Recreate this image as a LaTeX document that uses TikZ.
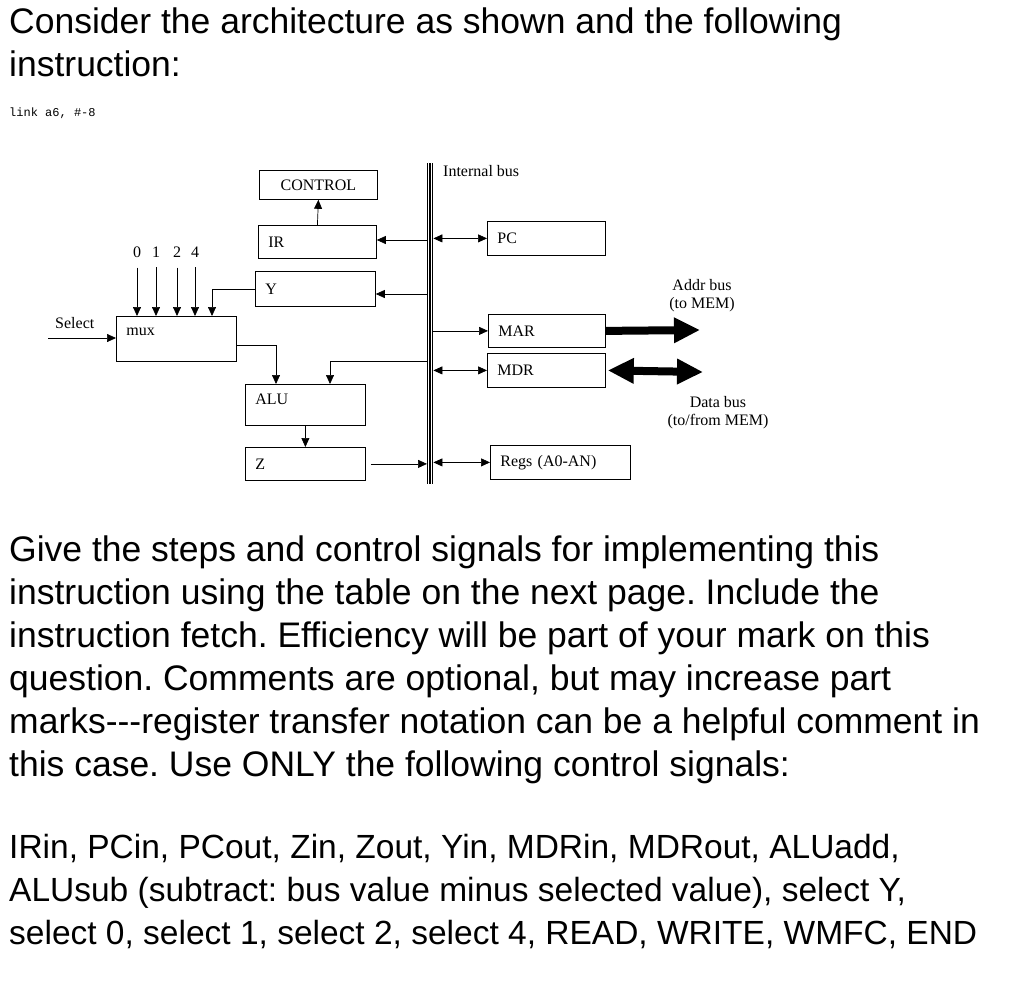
\documentclass[tikz,border=0pt]{standalone}
\usepackage{fontspec}
\setmainfont{Liberation Serif}
\newfontfamily\qfont{Liberation Sans}
\newfontfamily\mfont{Liberation Mono}
\usetikzlibrary{arrows.meta}
\frenchspacing
\begin{document}
\begin{tikzpicture}[x=1pt,y=-1pt,
  box/.style={draw, line width=0.8pt, anchor=north west, inner xsep=10pt, inner ysep=0pt, align=left, font=\fontsize{16}{16}\selectfont},
  lbl/.style={font=\fontsize{16}{18}\selectfont, inner sep=0pt},
  arr/.style={line width=0.7pt, -{Triangle[length=9pt,width=8pt]}},
  darr/.style={line width=0.7pt, {Triangle[length=9pt,width=8pt]}-{Triangle[length=9pt,width=8pt]}},
  q/.style={anchor=west, inner sep=0pt, font=\qfont\fontsize{35.5}{43}\selectfont, align=left}]
\useasboundingbox (0,0) rectangle (1024,988);
% question text
\node[q, anchor=north west] (t1) at (9,8) {Consider the architecture as shown and the following\\instruction:};
\node[anchor=west, inner sep=0pt, font=\mfont\fontsize{12}{12}\selectfont] (code) at (9,113) {link a6, \#-8};
\node[q, anchor=north west] (t2) at (9,536) {Give the steps and control signals for implementing this\\instruction using the table on the next page. Include the\\instruction fetch. Efficiency will be part of your mark on this\\question. Comments are optional, but may increase part\\marks---register transfer notation can be a helpful comment in\\this case. Use ONLY the following control signals:};
\node[q, anchor=north west, font=\qfont\fontsize{33.5}{43}\selectfont] (t3) at (9,834) {IRin, PCin, PCout, Zin, Zout, Yin, MDRin, MDRout, ALUadd,\\ALUsub (subtract: bus value minus selected value), select Y,\\select 0, select 1, select 2, select 4, READ, WRITE, WMFC, END};
% boxes
\node[box, minimum width=118, minimum height=29, align=center, text width=98] (ctl) at (259,170) {CONTROL};
\node[box, minimum width=118, minimum height=33, text width=98] (ir) at (258,225) {IR};
\node[box, minimum width=120, minimum height=35, text width=100] (y) at (255,271) {Y};
\node[box, minimum width=120, minimum height=45, text width=100, text depth=14pt] (mux) at (116,316) {mux};
\node[box, minimum width=120, minimum height=41, text width=100, text depth=12pt] (alu) at (245,384) {ALU};
\node[box, minimum width=120, minimum height=33, text width=100] (z) at (245,447) {Z};
\node[box, minimum width=118, minimum height=34, text width=98] (pc) at (487,221) {PC};
\node[box, minimum width=117, minimum height=33, text width=97] (mar) at (488,314) {MAR};
\node[box, minimum width=118, minimum height=34, text width=98] (mdr) at (487,353) {MDR};
\node[box, minimum width=140, minimum height=34, text width=120] (regs) at (490,445) {Regs (A0-AN)};
% bus
\node[anchor=north west, minimum width=6, minimum height=321, inner sep=0pt] (bus) at (427,163) {};
\foreach \dx in {0.8,3,5.2} \draw[line width=1.1pt] ([xshift=\dx]bus.north west) -- ([xshift=\dx]bus.south west);
\node[lbl, anchor=west] (ib) at (443,171) {Internal bus};
% labels
\node[lbl, anchor=west] (sel) at (55,323) {Select};
\node[lbl] (i0) at (137,252) {0};
\node[lbl] (i1) at (156,252) {1};
\node[lbl] (i2) at (177,252) {2};
\node[lbl] (i4) at (195,252) {4};
\node[lbl, align=center] (ab) at (702,296) {Addr bus\\(to MEM)};
\node[lbl, align=center] (db) at (718,413) {Data bus\\(to/from MEM)};
\coordinate (selin) at (48,338);
\coordinate (ma) at (700,330);
\coordinate (da) at (703,372);
% connectors
\draw[arr] (ir.north) -- (ctl.south);
\foreach \n/\x in {i0/137,i1/156,i2/177,i4/195}
  \draw[arr] ([yshift=-10]\n.south) -- (\x,316 |- mux.north);
\draw[arr] (y.west) -| (212,316 |- mux.north);
\draw[arr] (selin) -- (selin -| mux.west);
\draw[arr] ([yshift=-6]mux.east) -| (276,384 |- alu.north);
\draw[arr] (bus.west |- 0,361) -| (330,384 |- alu.north);
\draw[arr] (alu.south) -- (z.north);
\draw[arr] ([xshift=5]z.east) -- (z.east -| bus.west);
\draw[arr] (bus.west |- 0,240) -- (ir.east |- 0,240);
\draw[arr] (bus.west |- 0,294) -- (y.east |- 0,294);
\draw[darr] (bus.east |- pc.west) -- (pc.west);
\draw[arr] (bus.east |- mar.west) -- (mar.west);
\draw[darr] (bus.east |- mdr.west) -- (mdr.west);
\draw[darr] (bus.east |- regs.west) -- (regs.west);
\draw[line width=8pt, -{Triangle[length=26pt,width=24pt]}] (mar.east) -- (ma);
\draw[line width=8pt, {Triangle[length=26pt,width=24pt]}-{Triangle[length=26pt,width=24pt]}] ([xshift=2]mdr.east) -- (da);
\end{tikzpicture}
\end{document}
